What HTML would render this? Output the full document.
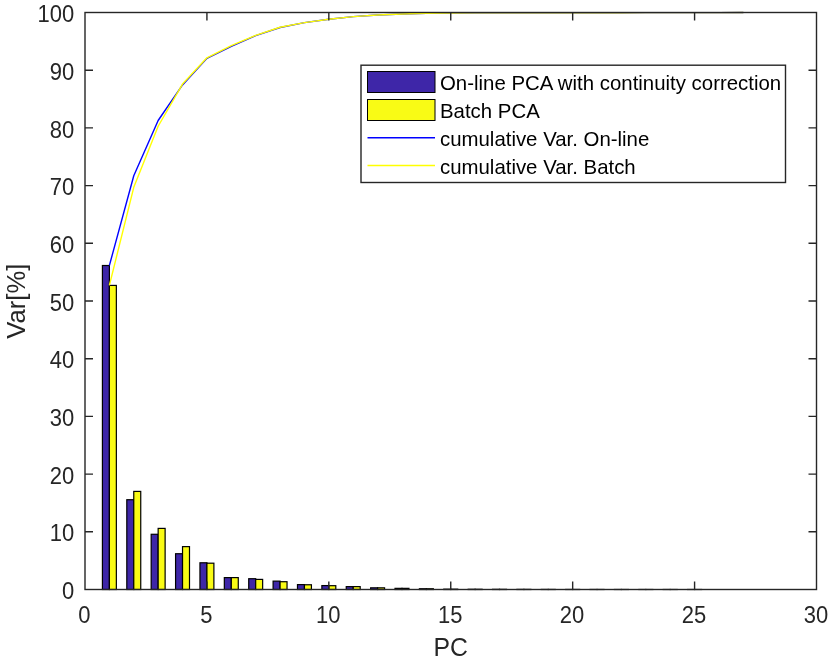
<!DOCTYPE html><html><head><meta charset="utf-8"><style>html,body{margin:0;padding:0;background:#fff;}svg{display:block;}text{font-family:"Liberation Sans",Arial,sans-serif;fill:#262626;}</style></head><body>
<svg width="831" height="658" viewBox="0 0 831 658">
<rect x="0" y="0" width="831" height="658" fill="#fff"/>
<rect x="102.42" y="265.51" width="6.97" height="323.99" fill="#3e26a8" stroke="#000" stroke-width="1.2"/>
<rect x="109.38" y="285.42" width="6.97" height="304.08" fill="#f9fb15" stroke="#000" stroke-width="1.2"/>
<rect x="126.80" y="499.72" width="6.97" height="89.78" fill="#3e26a8" stroke="#000" stroke-width="1.2"/>
<rect x="133.77" y="491.41" width="6.97" height="98.09" fill="#f9fb15" stroke="#000" stroke-width="1.2"/>
<rect x="151.18" y="534.28" width="6.97" height="55.22" fill="#3e26a8" stroke="#000" stroke-width="1.2"/>
<rect x="158.15" y="528.40" width="6.97" height="61.10" fill="#f9fb15" stroke="#000" stroke-width="1.2"/>
<rect x="175.57" y="553.73" width="6.97" height="35.77" fill="#3e26a8" stroke="#000" stroke-width="1.2"/>
<rect x="182.53" y="546.63" width="6.97" height="42.87" fill="#f9fb15" stroke="#000" stroke-width="1.2"/>
<rect x="199.95" y="562.78" width="6.97" height="26.72" fill="#3e26a8" stroke="#000" stroke-width="1.2"/>
<rect x="206.92" y="563.19" width="6.97" height="26.31" fill="#f9fb15" stroke="#000" stroke-width="1.2"/>
<rect x="224.33" y="577.61" width="6.97" height="11.89" fill="#3e26a8" stroke="#000" stroke-width="1.2"/>
<rect x="231.30" y="577.61" width="6.97" height="11.89" fill="#f9fb15" stroke="#000" stroke-width="1.2"/>
<rect x="248.72" y="578.71" width="6.97" height="10.79" fill="#3e26a8" stroke="#000" stroke-width="1.2"/>
<rect x="255.68" y="579.40" width="6.97" height="10.10" fill="#f9fb15" stroke="#000" stroke-width="1.2"/>
<rect x="273.10" y="581.13" width="6.97" height="8.37" fill="#3e26a8" stroke="#000" stroke-width="1.2"/>
<rect x="280.07" y="581.71" width="6.97" height="7.79" fill="#f9fb15" stroke="#000" stroke-width="1.2"/>
<rect x="297.48" y="584.60" width="6.97" height="4.90" fill="#3e26a8" stroke="#000" stroke-width="1.2"/>
<rect x="304.45" y="584.77" width="6.97" height="4.73" fill="#f9fb15" stroke="#000" stroke-width="1.2"/>
<rect x="321.87" y="585.58" width="6.97" height="3.92" fill="#3e26a8" stroke="#000" stroke-width="1.2"/>
<rect x="328.83" y="585.69" width="6.97" height="3.81" fill="#f9fb15" stroke="#000" stroke-width="1.2"/>
<rect x="346.25" y="586.62" width="6.97" height="2.88" fill="#3e26a8" stroke="#000" stroke-width="1.2"/>
<rect x="353.22" y="586.62" width="6.97" height="2.88" fill="#f9fb15" stroke="#000" stroke-width="1.2"/>
<rect x="370.63" y="587.83" width="6.97" height="1.67" fill="#3e26a8" stroke="#000" stroke-width="1.2"/>
<rect x="377.60" y="587.83" width="6.97" height="1.67" fill="#f9fb15" stroke="#000" stroke-width="1.2"/>
<rect x="395.02" y="588.35" width="6.97" height="1.15" fill="#3e26a8" stroke="#000" stroke-width="1.2"/>
<rect x="401.98" y="588.35" width="6.97" height="1.15" fill="#f9fb15" stroke="#000" stroke-width="1.2"/>
<rect x="419.40" y="588.75" width="6.97" height="0.75" fill="#3e26a8" stroke="#000" stroke-width="1.2"/>
<rect x="426.37" y="588.75" width="6.97" height="0.75" fill="#f9fb15" stroke="#000" stroke-width="1.2"/>
<rect x="443.78" y="589.15" width="6.97" height="0.35" fill="#3e26a8" stroke="#000" stroke-width="1.2"/>
<rect x="450.75" y="589.15" width="6.97" height="0.35" fill="#f9fb15" stroke="#000" stroke-width="1.2"/>
<rect x="468.17" y="589.27" width="6.97" height="0.23" fill="#3e26a8" stroke="#000" stroke-width="1.2"/>
<rect x="475.13" y="589.27" width="6.97" height="0.23" fill="#f9fb15" stroke="#000" stroke-width="1.2"/>
<rect x="492.55" y="589.33" width="6.97" height="0.17" fill="#3e26a8" stroke="#000" stroke-width="1.2"/>
<rect x="499.52" y="589.33" width="6.97" height="0.17" fill="#f9fb15" stroke="#000" stroke-width="1.2"/>
<rect x="516.93" y="589.38" width="6.97" height="0.12" fill="#3e26a8" stroke="#000" stroke-width="1.2"/>
<rect x="523.90" y="589.38" width="6.97" height="0.12" fill="#f9fb15" stroke="#000" stroke-width="1.2"/>
<rect x="541.32" y="589.43" width="6.97" height="0.07" fill="#3e26a8" stroke="#000" stroke-width="1.2"/>
<rect x="548.28" y="589.43" width="6.97" height="0.07" fill="#f9fb15" stroke="#000" stroke-width="1.2"/>
<rect x="565.70" y="589.45" width="6.97" height="0.05" fill="#3e26a8" stroke="#000" stroke-width="1.2"/>
<rect x="572.67" y="589.45" width="6.97" height="0.05" fill="#f9fb15" stroke="#000" stroke-width="1.2"/>
<rect x="590.08" y="589.47" width="6.97" height="0.03" fill="#3e26a8" stroke="#000" stroke-width="1.2"/>
<rect x="597.05" y="589.47" width="6.97" height="0.03" fill="#f9fb15" stroke="#000" stroke-width="1.2"/>
<rect x="614.47" y="589.48" width="6.97" height="0.02" fill="#3e26a8" stroke="#000" stroke-width="1.2"/>
<rect x="621.43" y="589.48" width="6.97" height="0.02" fill="#f9fb15" stroke="#000" stroke-width="1.2"/>
<rect x="638.85" y="589.49" width="6.97" height="0.01" fill="#3e26a8" stroke="#000" stroke-width="1.2"/>
<rect x="645.82" y="589.49" width="6.97" height="0.01" fill="#f9fb15" stroke="#000" stroke-width="1.2"/>
<rect x="663.23" y="589.49" width="6.97" height="0.01" fill="#3e26a8" stroke="#000" stroke-width="1.2"/>
<rect x="670.20" y="589.49" width="6.97" height="0.01" fill="#f9fb15" stroke="#000" stroke-width="1.2"/>
<rect x="687.62" y="589.49" width="6.97" height="0.01" fill="#3e26a8" stroke="#000" stroke-width="1.2"/>
<rect x="694.58" y="589.49" width="6.97" height="0.01" fill="#f9fb15" stroke="#000" stroke-width="1.2"/>
<rect x="712.00" y="589.50" width="6.97" height="0.00" fill="#3e26a8" stroke="#000" stroke-width="1.2"/>
<rect x="718.97" y="589.50" width="6.97" height="0.00" fill="#f9fb15" stroke="#000" stroke-width="1.2"/>
<rect x="736.38" y="589.50" width="6.97" height="0.00" fill="#3e26a8" stroke="#000" stroke-width="1.2"/>
<rect x="743.35" y="589.50" width="6.97" height="0.00" fill="#f9fb15" stroke="#000" stroke-width="1.2"/>
<rect x="760.77" y="589.50" width="6.97" height="0.00" fill="#3e26a8" stroke="#000" stroke-width="1.2"/>
<rect x="767.73" y="589.50" width="6.97" height="0.00" fill="#f9fb15" stroke="#000" stroke-width="1.2"/>
<rect x="785.15" y="589.50" width="6.97" height="0.00" fill="#3e26a8" stroke="#000" stroke-width="1.2"/>
<rect x="792.12" y="589.50" width="6.97" height="0.00" fill="#f9fb15" stroke="#000" stroke-width="1.2"/>
<polyline points="109.38,265.51 133.77,175.73 158.15,120.51 182.53,84.91 206.92,58.37 231.30,46.43 255.68,35.58 280.07,27.50 304.45,22.66 328.83,19.19 353.22,16.60 377.60,14.98 401.98,13.94 426.37,13.31 450.75,12.96 475.13,12.85 499.52,12.79 523.90,12.76 548.28,12.73 572.67,12.73 597.05,12.70 621.43,12.70 645.82,12.67 670.20,12.67 694.58,12.67 718.97,12.64 743.35,12.50" fill="none" stroke="#0000ff" stroke-width="1.4" stroke-linejoin="round"/>
<polyline points="109.38,285.42 133.77,187.33 158.15,126.23 182.53,84.05 206.92,57.79 231.30,45.68 255.68,35.29 280.07,27.27 304.45,22.66 328.83,19.19 353.22,16.60 377.60,14.98 401.98,13.94 426.37,13.31 450.75,12.96 475.13,12.85 499.52,12.79 523.90,12.76 548.28,12.73 572.67,12.73 597.05,12.70 621.43,12.70 645.82,12.67 670.20,12.67 694.58,12.67 718.97,12.64 743.35,12.50" fill="none" stroke="#ffff00" stroke-width="1.4" stroke-linejoin="round"/>
<rect x="85.00" y="12.50" width="731.50" height="577.00" fill="none" stroke="#262626" stroke-width="1.4"/>
<path d="M206.92,589.50v-8.0M206.92,12.50v8.0M328.83,589.50v-8.0M328.83,12.50v8.0M450.75,589.50v-8.0M450.75,12.50v8.0M572.67,589.50v-8.0M572.67,12.50v8.0M694.58,589.50v-8.0M694.58,12.50v8.0M85.00,531.80h8.0M816.50,531.80h-8.0M85.00,474.10h8.0M816.50,474.10h-8.0M85.00,416.40h8.0M816.50,416.40h-8.0M85.00,358.70h8.0M816.50,358.70h-8.0M85.00,301.00h8.0M816.50,301.00h-8.0M85.00,243.30h8.0M816.50,243.30h-8.0M85.00,185.60h8.0M816.50,185.60h-8.0M85.00,127.90h8.0M816.50,127.90h-8.0M85.00,70.20h8.0M816.50,70.20h-8.0" stroke="#262626" stroke-width="1.4" fill="none"/>
<text transform="translate(84.40,622.8) scale(1,1.11)" font-size="22" text-anchor="middle">0</text>
<text transform="translate(206.32,622.8) scale(1,1.11)" font-size="22" text-anchor="middle">5</text>
<text transform="translate(328.23,622.8) scale(1,1.11)" font-size="22" text-anchor="middle">10</text>
<text transform="translate(450.15,622.8) scale(1,1.11)" font-size="22" text-anchor="middle">15</text>
<text transform="translate(572.07,622.8) scale(1,1.11)" font-size="22" text-anchor="middle">20</text>
<text transform="translate(693.98,622.8) scale(1,1.11)" font-size="22" text-anchor="middle">25</text>
<text transform="translate(815.90,622.8) scale(1,1.11)" font-size="22" text-anchor="middle">30</text>
<text transform="translate(74.2,599.10) scale(1,1.11)" font-size="22" text-anchor="end">0</text>
<text transform="translate(74.2,541.40) scale(1,1.11)" font-size="22" text-anchor="end">10</text>
<text transform="translate(74.2,483.70) scale(1,1.11)" font-size="22" text-anchor="end">20</text>
<text transform="translate(74.2,426.00) scale(1,1.11)" font-size="22" text-anchor="end">30</text>
<text transform="translate(74.2,368.30) scale(1,1.11)" font-size="22" text-anchor="end">40</text>
<text transform="translate(74.2,310.60) scale(1,1.11)" font-size="22" text-anchor="end">50</text>
<text transform="translate(74.2,252.90) scale(1,1.11)" font-size="22" text-anchor="end">60</text>
<text transform="translate(74.2,195.20) scale(1,1.11)" font-size="22" text-anchor="end">70</text>
<text transform="translate(74.2,137.50) scale(1,1.11)" font-size="22" text-anchor="end">80</text>
<text transform="translate(74.2,79.80) scale(1,1.11)" font-size="22" text-anchor="end">90</text>
<text transform="translate(74.2,22.10) scale(1,1.11)" font-size="22" text-anchor="end">100</text>
<text transform="translate(450.75,656.2) scale(1,1.06)" font-size="24.75" text-anchor="middle">PC</text>
<text transform="translate(24.6,301.2) rotate(-90) scale(1.035,1.06)" x="0" y="0" font-size="24.75" text-anchor="middle">Var[%]</text>
<rect x="361" y="65.2" width="424.5" height="117.3" fill="#fff" stroke="#262626" stroke-width="1.4"/>
<rect x="367.5" y="71.5" width="67.5" height="21" fill="#3e26a8" stroke="#000" stroke-width="1"/>
<rect x="367.5" y="99.5" width="67.5" height="21" fill="#f9fb15" stroke="#000" stroke-width="1"/>
<path d="M367.5,137.7H435" stroke="#0000ff" stroke-width="1.5"/>
<path d="M367.5,165.4H435" stroke="#ffff00" stroke-width="1.5"/>
<text x="440" y="89.80" font-size="20.4" style="fill:#000">On-line PCA with continuity correction</text>
<text x="440" y="117.75" font-size="20.4" style="fill:#000">Batch PCA</text>
<text x="440" y="145.70" font-size="20.4" style="fill:#000">cumulative Var. On-line</text>
<text x="440" y="173.65" font-size="20.4" style="fill:#000">cumulative Var. Batch</text>
</svg></body></html>
